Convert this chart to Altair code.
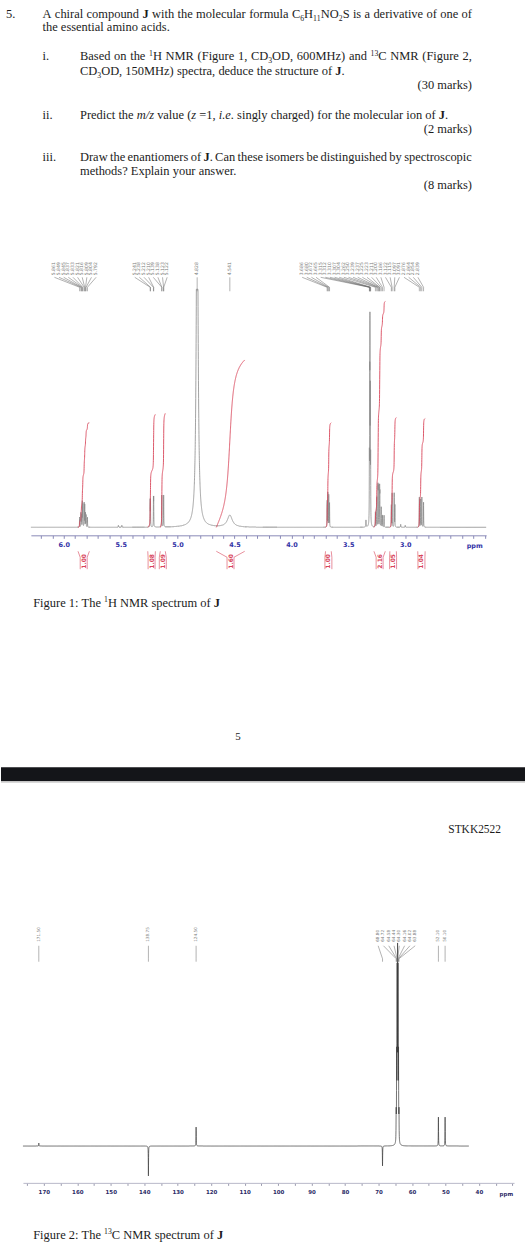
import altair as alt
import numpy as np
import pandas as pd

PAGE_W = 526
SERIF = "Liberation Serif"
SANS = "DejaVu Sans"
INK = "#1c1c1c"
FS = 12.5          # body text size
SMALL = 0.62       # sub/superscript scale

# ---------------------------------------------------------------- page text
Q_LINES = [
    [("5.", "r")],
    [("A chiral compound ", "r"), ("J", "b"), (" with the molecular formula C", "r"), ("6", "sub"),
     ("H", "r"), ("11", "sub"), ("NO", "r"), ("2", "sub"), ("S is a derivative of one of", "r")],
    [("the essential amino acids.", "r")],
    [("i.", "r")],
    [("Based on the ", "r"), ("1", "sup"), ("H NMR (Figure 1, CD", "r"), ("3", "sub"),
     ("OD, 600MHz) and ", "r"), ("13", "sup"), ("C NMR (Figure 2,", "r")],
    [("CD", "r"), ("3", "sub"), ("OD, 150MHz) spectra, deduce the structure of ", "r"), ("J", "b"), (".", "r")],
    [("(30 marks)", "r")],
    [("ii.", "r")],
    [("Predict the ", "r"), ("m/z", "i"), (" value (", "r"), ("z", "i"), (" =1, ", "r"), ("i.e.", "i"),
     (" singly charged) for the molecular ion of ", "r"), ("J", "b"), (".", "r")],
    [("(2 marks)", "r")],
    [("iii.", "r")],
    [("Draw the enantiomers of ", "r"), ("J", "b"),
     (". Can these isomers be distinguished by spectroscopic", "r")],
    [("methods? Explain your answer.", "r")],
    [("(8 marks)", "r")],
    [("Figure 1: The ", "r"), ("1", "sup"), ("H NMR spectrum of ", "r"), ("J", "b")],
    [("5", "r")],
    [("STKK2522", "r")],
    [("Figure 2: The ", "r"), ("13", "sup"), ("C NMR spectrum of ", "r"), ("J", "b")],
]
# x, baseline, alignment, right edge, size for each line above
Q_LAYOUT = [
    (5.0, 15.7, "left", None, FS),
    (41.7, 15.7, "justify", 472.7, FS),
    (41.7, 29.0, "left", None, FS),
    (41.7, 58.3, "left", None, FS),
    (79.3, 58.3, "justify", 472.7, FS),
    (79.3, 72.7, "left", None, FS),
    (None, 87.3, "right", 472.7, FS),
    (41.7, 117.3, "left", None, FS),
    (79.3, 117.3, "left", None, FS),
    (None, 131.0, "right", 472.7, FS),
    (41.7, 159.0, "left", None, FS),
    (79.3, 159.0, "justify", 472.7, FS),
    (79.3, 173.3, "left", None, FS),
    (None, 187.7, "right", 472.7, FS),
    (32.3, 606.7, "left", None, FS),
    (238.0, 740.0, "center", None, 11),
    (None, 834.0, "right", 502.0, 11.5),
    (32.3, 1241.0, "left", None, FS),
]

# Times advance widths (1/1000 em)
ROMAN = {' ': 250, '!': 333, '(': 333, ')': 333, ',': 250, '-': 333, '.': 250, '/': 278, ':': 278,
         '=': 564, '?': 444, 'A': 722, 'B': 667, 'C': 667, 'D': 722, 'E': 611, 'F': 556, 'G': 722,
         'H': 722, 'I': 333, 'J': 389, 'K': 722, 'L': 611, 'M': 889, 'N': 722, 'O': 722, 'P': 556,
         'Q': 722, 'R': 667, 'S': 556, 'T': 611, 'U': 722, 'V': 722, 'W': 944, 'X': 722, 'Y': 722,
         'Z': 611, 'a': 444, 'b': 500, 'c': 444, 'd': 500, 'e': 444, 'f': 333, 'g': 500, 'h': 500,
         'i': 278, 'j': 278, 'k': 500, 'l': 278, 'm': 778, 'n': 500, 'o': 500, 'p': 500, 'q': 500,
         'r': 333, 's': 389, 't': 278, 'u': 500, 'v': 500, 'w': 722, 'x': 500, 'y': 500, 'z': 444}
BOLD = {'J': 500}
ITALIC = {'m': 722, 'z': 389}


def run_width(text, style, size):
    table = {"b": BOLD, "i": ITALIC}.get(style, {})
    k = SMALL if style in ("sub", "sup") else 1.0
    return sum(table.get(c, ROMAN.get(c, 500)) for c in text) * size * k / 1000.0


def layout_line(runs, x0, y0, align, edge, size):
    items = []
    for text, style in runs:
        for k, part in enumerate(text.split(" ")):
            if k > 0:
                items.append(None)
            if part:
                items.append((part, style))
    gap = 250 * size / 1000.0
    natural = sum(run_width(it[0], it[1], size) if it else gap for it in items)
    n_gaps = sum(1 for it in items if it is None)
    if align == "justify" and n_gaps:
        gap += (edge - x0 - natural) / n_gaps
        x = x0
    elif align == "right":
        x = edge - natural
    elif align == "center":
        x = x0 - natural / 2
    else:
        x = x0
    rows = []
    for it in items:
        if it is None:
            x += gap
            continue
        t, s = it
        dy = {"sub": 2.8, "sup": -4.6}.get(s, 0.0)
        rows.append(dict(t=t, x=x, y=y0 + dy, s=s, size=size * (SMALL if s in ("sub", "sup") else 1.0)))
        x += run_width(t, s, size)
    return rows


text_rows = []
for runs, (x0, y0, al, edge, size) in zip(Q_LINES, Q_LAYOUT):
    text_rows += layout_line(runs, x0, y0, al, edge, size)
text_df = pd.DataFrame(text_rows)


def text_layer(df, **style):
    return alt.Chart(df).mark_text(align="left", baseline="alphabetic", font=SERIF, color=INK,
                                   **style).encode(
        x=alt.X("x:Q", scale=None), y=alt.Y("y:Q", scale=None), text="t:N",
        size=alt.Size("size:Q", scale=None, legend=None))


one = pd.DataFrame({"k": [0]})
band = alt.Chart(one).mark_rect(color="#141519").encode(
    x=alt.value(0), x2=alt.value(PAGE_W), y=alt.value(767.7), y2=alt.value(781.7))
band_edge = alt.Chart(one).mark_rule(color="#a0a0a0", strokeWidth=1).encode(
    x=alt.value(0), x2=alt.value(PAGE_W), y=alt.value(782.5))

page = alt.layer(
    band, band_edge,
    text_layer(text_df[text_df.s.isin(["r", "sub", "sup"])]),
    text_layer(text_df[text_df.s == "b"], fontWeight="bold"),
    text_layer(text_df[text_df.s == "i"], fontStyle="italic"),
).properties(width=PAGE_W, height=240)

# ---------------------------------------------------------------- 1H NMR data
H_LABELS = [
    ["5.861", "5.849", "5.845", "5.837", "5.833", "5.821", "5.816", "5.809", "5.804", "5.792"],
    ["5.241", "5.238", "5.212", "5.210", "5.139", "5.138", "5.123", "5.122"],
    ["4.828"],
    ["4.541"],
    ["3.686", "3.680", "3.672", "3.665", "3.315", "3.312", "3.310", "3.307", "3.304",
     "3.262", "3.250", "3.239", "3.237", "3.225", "3.223", "3.211", "3.200", "3.186",
     "3.122", "3.115", "3.097", "3.091", "2.876", "2.864", "2.854", "2.839"],
]
H_HEIGHTS = [
    [10, 14, 12, 25, 22, 24, 22, 14, 12, 10],
    [26, 26, 26, 26, 20, 20, 20, 20],
    [400],
    [12],
    [26, 34, 32, 24, 59, 118, 177, 118, 59,
     15, 30, 37, 35, 37, 30, 20, 12, 12,
     22, 34, 34, 22, 30, 28, 30, 25],
]
H_WIDTHS = [0.001, 0.001, 0.0087, 0.026, 0.001]        # Lorentzian half widths, ppm
H_LABEL_CENTRES = [5.899, 5.234, 4.828, 4.541, 3.397]  # where each label fan is centred
H_MINOR = [5.52, 5.49, 3.345, 3.04, 3.00]              # small unlabelled lines
H_MINOR_HEIGHTS = [2, 2, 7, 3, 2]

H_INTEGRALS = ["1.00", "1.08", "1.09", "1.60", "1.00", "2.16", "1.05", "1.04"]
H_INT_FROM = [5.875, 5.262, 5.152, 4.660, 3.700, 3.275, 3.135, 2.890]
H_INT_TO = [5.775, 5.195, 5.108, 4.410, 3.650, 3.175, 3.078, 2.825]
INT_PX = 105.0   # integral curve rise per unit

H_TICKS = [round(v / 10, 1) for v in range(62, 22, -1)]

# spectrum
lines = []
for labs, hts, gw in zip(H_LABELS, H_HEIGHTS, H_WIDTHS):
    for lab, h in zip(labs, hts):
        lines.append((float(lab), h, gw))
for p, h in zip(H_MINOR, H_MINOR_HEIGHTS):
    lines.append((p, h, 0.0015))
ppm = np.union1d(np.arange(2.289, 6.2891, 0.0004), [l[0] for l in lines])
inten = np.zeros_like(ppm)
for p, h, gw in lines:
    inten += h * gw ** 2 / (gw ** 2 + (ppm - p) ** 2)
H_CAP = 239.0
h_spec = pd.DataFrame({"ppm": ppm, "I": np.minimum(inten, H_CAP)})

# integral curves
int_rows = []
for k, (a, b, val) in enumerate(zip(H_INT_FROM, H_INT_TO, H_INTEGRALS)):
    m = (ppm <= a) & (ppm >= b)
    xs = ppm[m][::-1]
    ys = inten[m][::-1]
    cum = np.concatenate([[0], np.cumsum(0.5 * (ys[1:] + ys[:-1]) * np.abs(np.diff(xs)))])
    cum = cum / cum[-1] * float(val) * INT_PX
    for xx, yy in zip(xs, cum):
        int_rows.append(dict(ppm=xx, I=yy, grp=k))
h_int = pd.DataFrame(int_rows)

# peak-label fans
STEP_H = 4.65 / 114.3
lab_rows = []
for labs, c in zip(H_LABELS, H_LABEL_CENTRES):
    n = len(labs)
    for k, lab in enumerate(labs):
        lab_rows.append(dict(t=lab, lx=c + STEP_H * ((n - 1) / 2 - k), px=float(lab)))
h_lab = pd.DataFrame(lab_rows)

mid = [(a + b) / 2 for a, b in zip(H_INT_FROM, H_INT_TO)]
BOX = 3.5 / 114.3
h_intlab = pd.DataFrame({"t": H_INTEGRALS, "m": mid, "a": H_INT_FROM, "b": H_INT_TO,
                         "l": [v + BOX for v in mid], "r": [v - BOX for v in mid]})

XH = alt.Scale(domain=[6.289, 2.289], range=[30, 487], nice=False, zero=False)
YH = alt.Scale(domain=[-8, 287], range=[295, 0], nice=False, zero=False)
AXH = alt.Axis(values=H_TICKS, title=None, grid=False,
               labelExpr="(round(datum.value*10) % 5 == 0 && datum.value > 2.9) ? format(datum.value, '.1f') : ''",
               domainColor="#8a8ab8", tickColor="#8a8ab8", labelColor="#3232a6",
               labelFont=SANS, labelFontWeight="bold", labelFontSize=6.5, tickSize=3,
               labelPadding=3, labelOverlap=False, labelFlush=False)
RED = "#d8455a"


def hx(field):
    return alt.X(field, scale=XH, axis=AXH)


def hy(field):
    return alt.Y(field, scale=YH, axis=None)


h_line = alt.Chart(h_spec).mark_line(color="#8a8a8a", strokeWidth=0.8).encode(
    x=hx("ppm:Q"), y=hy("I:Q"))
h_intg = alt.Chart(h_int).mark_line(color=RED, strokeWidth=0.9).encode(
    x=hx("ppm:Q"), y=hy("I:Q"), detail="grp:N")
h_fan = alt.Chart(h_lab).mark_rule(color="#666666", strokeWidth=0.5).encode(
    x=hx("lx:Q"), x2="px:Q", y=alt.value(36), y2=alt.value(46))
h_stem = alt.Chart(h_lab).mark_rule(color="#666666", strokeWidth=0.5).encode(
    x=hx("px:Q"), y=alt.value(46), y2=alt.value(50))
h_text = alt.Chart(h_lab).mark_text(angle=270, align="left", baseline="middle", font=SANS,
                                    fontSize=4.6, color="#777777").encode(
    x=hx("lx:Q"), y=alt.value(34), text="t:N")
br_l = alt.Chart(h_intlab).mark_rule(color=RED, strokeWidth=0.6).encode(
    x=hx("a:Q"), x2="l:Q", y=alt.value(311), y2=alt.value(317))
br_r = alt.Chart(h_intlab).mark_rule(color=RED, strokeWidth=0.6).encode(
    x=hx("b:Q"), x2="r:Q", y=alt.value(311), y2=alt.value(317))
bx_l = alt.Chart(h_intlab).mark_rule(color=RED, strokeWidth=0.6).encode(
    x=hx("l:Q"), y=alt.value(317), y2=alt.value(329))
bx_r = alt.Chart(h_intlab).mark_rule(color=RED, strokeWidth=0.6).encode(
    x=hx("r:Q"), y=alt.value(317), y2=alt.value(329))
int_txt = alt.Chart(h_intlab).mark_text(angle=270, align="left", baseline="middle", font=SANS,
                                        fontSize=6, fontWeight="bold", color=RED).encode(
    x=hx("m:Q"), y=alt.value(328.5), text="t:N")
ppm_h = alt.Chart(pd.DataFrame({"p": [2.39], "t": ["ppm"]})).mark_text(
    font=SANS, fontWeight="bold", fontSize=6.5, color="#3232a6", baseline="middle").encode(
    x=hx("p:Q"), y=alt.value(305.5), text="t:N")

h_panel = alt.layer(h_line, h_intg, h_fan, h_stem, h_text, br_l, br_r, bx_l, bx_r, int_txt,
                    ppm_h).properties(width=PAGE_W, height=295)

spacer = alt.Chart(one).mark_rule(opacity=0).encode(
    x=alt.value(0), y=alt.value(0), y2=alt.value(1)).properties(width=PAGE_W, height=365)

# ---------------------------------------------------------------- 13C NMR data
C_LABELS = ["171.50", "138.75", "124.50",
            "68.80", "64.72", "64.58", "64.44", "64.30", "64.16", "64.02", "63.88",
            "52.10", "50.10"]
C_HEIGHTS = [3, -30, 19,
             -20, 27, 80, 160, 176, 160, 80, 27,
             29, 29]
C_LABEL_POS = [171.50, 138.75, 124.50,
               70.10, 68.52, 66.94, 65.36, 63.78, 62.20, 60.62, 59.04,
               52.10, 50.10]
C_TICKS = list(range(175, 29, -5))

cppm = np.union1d(np.arange(43.0, 176.25, 0.02), [float(v) for v in C_LABELS])
cint = np.zeros_like(cppm)
for lab, h in zip(C_LABELS, C_HEIGHTS):
    g = 0.04
    cint += h * g ** 2 / (g ** 2 + (cppm - float(lab)) ** 2)
c_spec = pd.DataFrame({"ppm": cppm, "I": cint})
c_lab = pd.DataFrame({"t": C_LABELS, "lx": C_LABEL_POS, "px": [float(v) for v in C_LABELS]})

XC = alt.Scale(domain=[176.25, 29.5], range=[22, 515], nice=False, zero=False)
YC = alt.Scale(domain=[-37, 248], range=[285, 0], nice=False, zero=False)
AXC = alt.Axis(values=C_TICKS, title=None, grid=False,
               labelExpr="(datum.value % 10 == 0 && datum.value >= 40) ? format(datum.value, 'd') : ''",
               domainColor="#b9b9c9", tickColor="#9a9aae", labelColor="#2a2a66",
               labelFont=SANS, labelFontWeight="bold", labelFontSize=5.5, tickSize=2.5,
               labelPadding=4, labelOverlap=False, labelFlush=False)


def cx(field):
    return alt.X(field, scale=XC, axis=AXC)


def cy(field):
    return alt.Y(field, scale=YC, axis=None)


c_line = alt.Chart(c_spec).mark_line(color="#3a3a3a", strokeWidth=0.7).encode(
    x=cx("ppm:Q"), y=cy("I:Q"))
c_fan = alt.Chart(c_lab).mark_rule(color="#666666", strokeWidth=0.5).encode(
    x=cx("lx:Q"), x2="px:Q", y=alt.value(47), y2=alt.value(60))
c_stem = alt.Chart(c_lab).mark_rule(color="#666666", strokeWidth=0.5).encode(
    x=cx("px:Q"), y=alt.value(60), y2=alt.value(63))
c_text = alt.Chart(c_lab).mark_text(angle=270, align="left", baseline="middle", font=SANS,
                                    fontSize=4.2, color="#777777").encode(
    x=cx("lx:Q"), y=alt.value(43), text="t:N")
ppm_c = alt.Chart(pd.DataFrame({"p": [31.8], "t": ["ppm"]})).mark_text(
    font=SANS, fontWeight="bold", fontSize=5.5, color="#2a2a66", baseline="middle").encode(
    x=cx("p:Q"), y=alt.value(296), text="t:N")

c_panel = alt.layer(c_line, c_fan, c_stem, c_text, ppm_c).properties(width=PAGE_W, height=285)

chart = alt.vconcat(page, h_panel, spacer, c_panel, spacing=0, bounds="flush").properties(
    padding=0, background="white"
).configure_view(stroke=None)

chart.save("out.html", embed_options={"renderer": "svg", "actions": False})
